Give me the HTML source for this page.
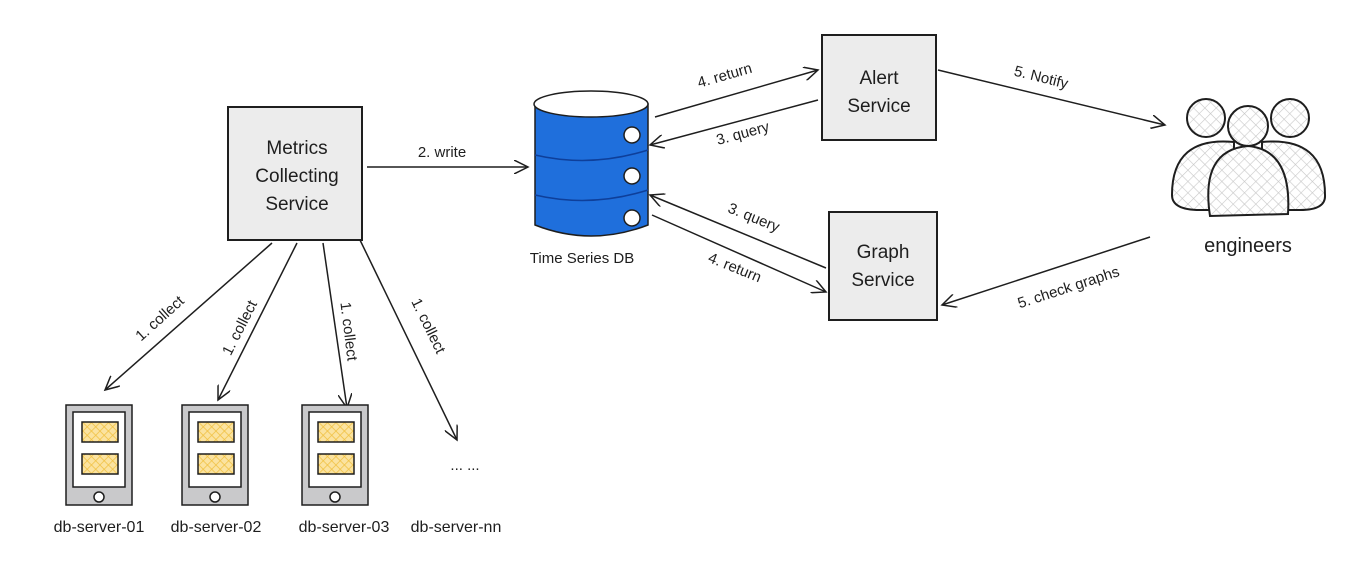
<!DOCTYPE html>
<html><head><meta charset="utf-8"><style>
html,body{margin:0;padding:0;background:#fff;}
svg{display:block;}
text{font-family:"Liberation Sans",sans-serif;fill:#1e1e1e;}
</style></head><body>
<svg width="1358" height="570" viewBox="0 0 1358 570" xmlns="http://www.w3.org/2000/svg">
<defs>
<pattern id="hatch" width="8" height="8" patternUnits="userSpaceOnUse" patternTransform="rotate(45)">
<rect width="8" height="8" fill="#fff"/><path d="M0 0V8M0 0H8" stroke="#c8c8c8" stroke-width="1.2"/></pattern>
<pattern id="yh" width="6" height="6" patternUnits="userSpaceOnUse" patternTransform="rotate(45)">
<rect width="6" height="6" fill="#fbe3a0"/><path d="M0 0V6M0 0H6" stroke="#f0c040" stroke-width="1.5"/></pattern>
<marker id="ah" markerWidth="16" markerHeight="14" refX="14" refY="7" orient="auto" markerUnits="userSpaceOnUse">
<path d="M0 0L14 7L0 14" fill="none" stroke="#1e1e1e" stroke-width="1.5"/></marker>
</defs>
<g stroke="#1e1e1e" stroke-width="2" fill="#ececec">
<rect x="228" y="107" width="134" height="133"/>
<rect x="822" y="35" width="114" height="105"/>
<rect x="829" y="212" width="108" height="108"/>
</g>
<g font-size="19" text-anchor="middle">
<text x="297" y="154">Metrics</text><text x="297" y="182">Collecting</text><text x="297" y="210">Service</text>
<text x="879" y="84">Alert</text><text x="879" y="112">Service</text>
<text x="883" y="258">Graph</text><text x="883" y="286">Service</text>
</g>
<!-- DB -->
<g stroke="#1e1e1e" stroke-width="1.5">
<path d="M535 104 V225 Q591 247 648 225 V104 Z" fill="#1f6fdc"/>
<ellipse cx="591" cy="104" rx="57" ry="13" fill="#fff"/>
<path d="M535 155 Q591 168 648 150 M535 195 Q591 208 648 190" fill="none" stroke="#0e3f9a"/>
<g fill="#fff"><circle cx="632" cy="135" r="8"/><circle cx="632" cy="176" r="8"/><circle cx="632" cy="218" r="8"/></g>
</g>
<text x="582" y="263" font-size="15" text-anchor="middle">Time Series DB</text>
<!-- arrows -->
<g stroke="#1e1e1e" stroke-width="1.5" fill="none" marker-end="url(#ah)">
<path d="M367 167 L528 167"/>
<path d="M655 117 L818 70"/>
<path d="M818 100 L650 145"/>
<path d="M826 268 L650 195"/>
<path d="M652 215 L826 292"/>
<path d="M938 70 L1165 125"/>
<path d="M1150 237 L942 305"/>
<path d="M272 243 L105 390"/>
<path d="M297 243 L218 400"/>
<path d="M323 243 L347 408"/>
<path d="M360 240 L457 440"/>
</g>
<g font-size="15" text-anchor="middle">
<text x="442" y="157">2. write</text>
<text transform="translate(726,80) rotate(-16)">4. return</text>
<text transform="translate(744,138) rotate(-15)">3. query</text>
<text transform="translate(752,222) rotate(22)">3. query</text>
<text transform="translate(733,272) rotate(22)">4. return</text>
<text transform="translate(1040,82) rotate(14)">5. Notify</text>
<text transform="translate(1070,292) rotate(-18)">5. check graphs</text>
<text transform="translate(163,322) rotate(-42)">1. collect</text>
<text transform="translate(244,330) rotate(-63)">1. collect</text>
<text transform="translate(344,332) rotate(83)">1. collect</text>
<text transform="translate(424,328) rotate(64)">1. collect</text>
</g>
<!-- devices -->
<g stroke="#1e1e1e" stroke-width="1.5">
<g transform="translate(66,405)">
<rect width="66" height="100" fill="#c9c9cb"/><rect x="7" y="7" width="52" height="75" fill="#fff"/>
<rect x="16" y="17" width="36" height="20" fill="url(#yh)"/><rect x="16" y="49" width="36" height="20" fill="url(#yh)"/>
<circle cx="33" cy="92" r="5" fill="#fff"/></g>
<g transform="translate(182,405)">
<rect width="66" height="100" fill="#c9c9cb"/><rect x="7" y="7" width="52" height="75" fill="#fff"/>
<rect x="16" y="17" width="36" height="20" fill="url(#yh)"/><rect x="16" y="49" width="36" height="20" fill="url(#yh)"/>
<circle cx="33" cy="92" r="5" fill="#fff"/></g>
<g transform="translate(302,405)">
<rect width="66" height="100" fill="#c9c9cb"/><rect x="7" y="7" width="52" height="75" fill="#fff"/>
<rect x="16" y="17" width="36" height="20" fill="url(#yh)"/><rect x="16" y="49" width="36" height="20" fill="url(#yh)"/>
<circle cx="33" cy="92" r="5" fill="#fff"/></g>
</g>
<text x="465" y="470" font-size="15" text-anchor="middle">... ...</text>
<g font-size="16" text-anchor="middle">
<text x="99" y="532">db-server-01</text><text x="216" y="532">db-server-02</text>
<text x="344" y="532">db-server-03</text><text x="456" y="532">db-server-nn</text>
</g>
<!-- engineers -->
<g stroke="#1e1e1e" stroke-width="2" fill="url(#hatch)">
<path d="M1262 142 Q1325 136 1325 195 Q1326 210 1300 210 L1262 210 Z"/>
<circle cx="1290" cy="118" r="19"/>
<path d="M1234 142 Q1172 136 1172 195 Q1172 210 1200 210 L1234 210 Z"/>
<circle cx="1206" cy="118" r="19"/>
<path d="M1210 216 Q1200 150 1248 146 Q1292 150 1288 214 Z"/>
<circle cx="1248" cy="126" r="20"/>
</g>
<text x="1248" y="252" font-size="20" text-anchor="middle">engineers</text>
</svg>
</body></html>
